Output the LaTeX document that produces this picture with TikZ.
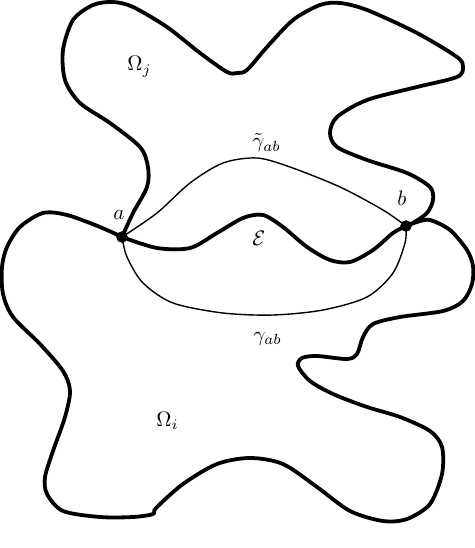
\documentclass[tikz,border=0pt]{standalone}
\usepackage{amssymb, amsmath}
\tikzset{every picture/.append style={x=1pt, y=-1pt}}
\tikzset{
    border/.style={line width=3.8pt, line join=round, line cap=round},
    arc/.style={line width=1.4pt},
    vertex/.style={circle, fill, draw, inner sep=0pt, minimum size=11pt},
    lbl/.style={anchor=base west, inner sep=0pt, scale=2.1}
}

\begin{document}
\begin{tikzpicture}
  \useasboundingbox (0,0) rectangle (474,548);
  \coordinate (a) at (122,237);
  \coordinate (b) at (406,226);

  % upper domain
  \draw[border] plot[smooth] coordinates {(a) (133,213) (147,187) (148,167)
    (140,147) (110,123) (80,103) (65,80) (63,50) (73,20) (93,5) (113,2)
    (133,7) (167,27) (200,53) (227,72) (237,73) (247,70) (267,47) (293,20)
    (320,5) (340,3) (367,10) (417,33) (457,57) (463,67) (457,77) (417,87)
    (367,100) (337,117) (330,133) (337,147) (367,160) (407,173) (430,187)
    (433,200) (427,213) (413,223) (b)};
  % lower domain
  \draw[border] plot[smooth] coordinates {(a) (100,227) (67,215) (43,213)
    (20,227) (7,247) (2,267) (3,294) (13,317) (40,344) (63,371) (70,391)
    (65,417) (53,451) (45,477) (47,494) (63,511) (100,517) (133,517)
    (153,514) (156,508) (183,484) (217,464) (250,458) (283,464) (317,487)
    (350,511) (383,521) (407,519) (430,504) (442,474) (442,447) (430,431)
    (400,417) (367,407) (333,394) (310,381) (298,366) (302,358) (317,356)
    (347,359) (357,354) (363,337) (373,324) (400,317) (443,311) (463,301)
    (472,284) (473,266) (467,250) (450,230) (430,220) (417,222) (b)};
  % common edge
  \draw[border] plot[smooth] coordinates {(a) (157,248) (190,248) (217,233)
    (243,218) (263,215) (283,227) (307,247) (330,260) (350,262) (373,250)
    (393,233) (b)};
  % the two paths
  \draw[arc] plot[smooth] coordinates {(a) (157,213) (190,183) (223,163)
    (257,158) (290,167) (340,187) (383,210) (b)};
  \draw[arc] plot[smooth] coordinates {(a) (127,257) (143,283) (173,303)
    (223,313) (273,315) (323,310) (367,297) (393,273) (405,243) (b)};

  \node[vertex] (va) at (a) {};
  \node[vertex] (vb) at (b) {};

  \node[lbl] (la) at (113,219) {$a$};
  \node[lbl] (lb) at (397,205) {$b$};
  \node[lbl] (Oj) at (127,71) {$\Omega_j$};
  \node[lbl] (Oi) at (156,426) {$\Omega_i$};
  \node[lbl] (E) at (252,245) {$\mathcal{E}$};
  \node[lbl] (gt) at (252,148) {$\tilde{\gamma}_{ab}$};
  \node[lbl] (g) at (253,341) {$\gamma_{ab}$};
\end{tikzpicture}
\end{document}
